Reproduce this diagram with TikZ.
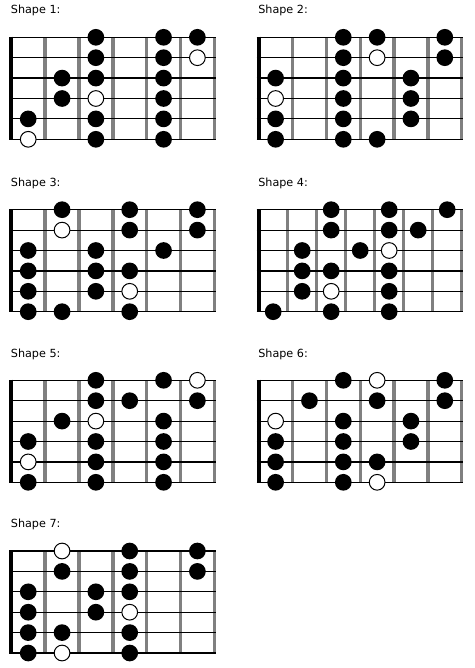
\documentclass[tikz,border=0pt]{standalone}
\usepackage{fontspec}
\setmainfont{DejaVu Sans}
\definecolor{fretgray}{RGB}{128,128,128}

\tikzset{
    nutline/.style={line width=4pt},
    fretline/.style={line width=3.4pt,fretgray},
    stringline/.style={line width=1.2pt},
    blackdot/.style={circle,fill=black,inner sep=0pt,minimum size=16.7pt},
    whitedot/.style={circle,draw=black,line width=1pt,fill=white,inner sep=0pt,minimum size=15.7pt},
    shapetitle/.style={anchor=base west,inner sep=0pt,font=\fontsize{11.2}{13}\selectfont}
}

% #1 name, #2 x of nut, #3 y of top string, #4 frets, #5 title, #6 black dots, #7 white dots
\newcommand{\fretboard}[7]{
    \pgfmathsetmacro\fw{203/#4}
    \node[shapetitle] (#1-title) at (#2-0.6,#3-23.3) {#5};
    \foreach \f in {1,...,#4}
        \draw[fretline] ({#2+\f*\fw},#3) -- ({#2+\f*\fw},#3+102);
    \foreach \s in {0,...,5}
        \draw[stringline] (#2-2,{#3+\s*20.4}) -- (#2+204.5,{#3+\s*20.4});
    \draw[nutline] (#2,#3-0.6) -- (#2,#3+102.6);
    \foreach \s/\f in {#6}
        \node[blackdot] (#1-\s-\f) at ({#2+(\f-0.5)*\fw},{#3+(\s-1)*20.4}) {};
    \foreach \s/\f in {#7}
        \node[whitedot] (#1-\s-\f) at ({#2+(\f-0.5)*\fw},{#3+(\s-1)*20.4}) {};
}

\begin{document}
\begin{tikzpicture}[x=1pt,y=-1pt]
\useasboundingbox[fill=white] (0,0) rectangle (474,668);

\fretboard{sa}{11.3}{37.3}{6}{Shape 1:}
    {1/3,1/5,1/6,2/3,2/5,3/2,3/3,3/5,4/2,4/5,5/1,5/3,5/5,6/3,6/5}
    {2/6,4/3,6/1}
\fretboard{sb}{258.7}{37.3}{6}{Shape 2:}
    {1/3,1/4,1/6,2/3,2/6,3/1,3/3,3/5,4/3,4/5,5/1,5/3,5/5,6/1,6/3,6/4}
    {2/4,4/1}
\fretboard{sc}{11.3}{209.7}{6}{Shape 3:}
    {1/2,1/4,1/6,2/4,2/6,3/1,3/3,3/5,4/1,4/3,4/4,5/1,5/3,6/1,6/2,6/4}
    {2/2,5/4}
\fretboard{sd}{258.7}{209.7}{7}{Shape 4:}
    {1/3,1/5,1/7,2/3,2/5,2/6,3/2,3/4,4/2,4/3,4/5,5/2,5/5,6/1,6/3,6/5}
    {3/5,5/3}
\fretboard{se}{11.3}{380.3}{6}{Shape 5:}
    {1/3,1/5,2/3,2/4,2/6,3/2,3/5,4/1,4/3,4/5,5/3,5/5,6/1,6/3,6/5}
    {1/6,3/3,5/1}
\fretboard{sf}{258.7}{380.3}{6}{Shape 6:}
    {1/3,1/6,2/2,2/4,2/6,3/3,3/5,4/1,4/3,4/5,5/1,5/3,5/4,6/1,6/3}
    {1/4,3/1,6/4}
\fretboard{sg}{11.3}{551}{6}{Shape 7:}
    {1/4,1/6,2/2,2/4,2/6,3/1,3/3,3/4,4/1,4/3,5/1,5/2,5/4,6/1,6/4}
    {1/2,4/4,6/2}
\end{tikzpicture}
\end{document}
